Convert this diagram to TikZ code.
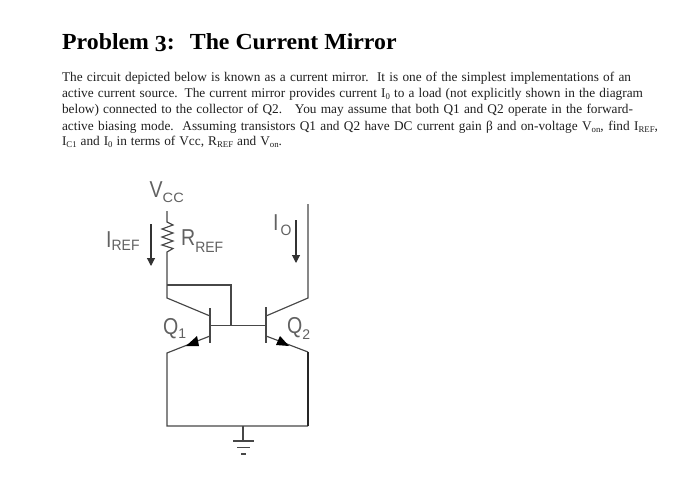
\documentclass[tikz,border=0pt]{standalone}
\usepackage{fontspec}
\setmainfont{Liberation Serif}
\newfontfamily\diagfont{Liberation Sans}
\usetikzlibrary{arrows.meta}
\newcommand{\lowtxt}[1]{\raisebox{-0.25ex}{\fontsize{8.8}{9}\selectfont #1}}
\newcommand{\mainlab}[1]{\scalebox{0.85}[1]{\fontsize{23}{25}\selectfont #1}}
\newcommand{\sublab}[2]{\raisebox{-#1pt}{\scalebox{0.93}[1]{\fontsize{15}{17}\selectfont #2}}}
\tikzset{
  bodyline/.style={anchor=base west,inner sep=0pt,outer sep=0pt,text=black!88,font=\fontsize{13.3}{15}\selectfont},
  title/.style={anchor=base west,inner sep=0pt,text=black,font=\fontsize{23}{26}\selectfont\bfseries},
  wire/.style={draw=black!72,line width=1.15pt,line join=miter},
  thickwire/.style={draw=black!85,line width=1.9pt},
  current/.style={draw=black!80,line width=1.15pt,-{Triangle[length=8pt,width=8pt]}},
  emitter/.style={draw=black!72,line width=1.15pt},
  tip/.style={fill=black,draw=none},
  lab/.style={inner sep=0pt,anchor=base west,text=black!62,font=\diagfont},
}
\begin{document}
\begin{tikzpicture}[x=1pt,y=-1pt]
\useasboundingbox (0,0) rectangle (700,486);
\fill[white] (0,0) rectangle (700,486);
\node[title] (head) at (62,49.5) {\scalebox{1.035}[1]{Problem \raisebox{-0.22ex}{3}:\hspace{0.3em} The Current Mirror}};
\node[bodyline] (l1) at (62,82) {\hbox to 569pt{The circuit depicted below is known as a current mirror.\ \ It is one of the simplest implementations of an}};
\node[bodyline] (l2) at (62,98) {\hbox to 581pt{active current source. The current mirror provides current I\lowtxt{0} to a load (not explicitly shown in the diagram}};
\node[bodyline] (l3) at (62,114) {\hbox to 571pt{below) connected to the collector of Q2.\ \ \ You may assume that both Q1 and Q2 operate in the forward-}};
\node[bodyline] (l4) at (62,130.5) {\hbox to 596pt{active biasing mode.\ \ Assuming transistors Q1 and Q2 have DC current gain β and on-voltage V\lowtxt{on}, find I\lowtxt{REF},}};
\node[bodyline] (l5) at (62,146) {\hbox to 220pt{I\lowtxt{C1} and I\lowtxt{0} in terms of Vcc, R\lowtxt{REF} and V\lowtxt{on}.}};

\coordinate (vcc) at (167,211);
\coordinate (rtop) at (167,222);
\coordinate (rbot) at (167,252);
\coordinate (jn) at (167,285);
\coordinate (c1) at (167,298);
\coordinate (jr) at (231,285);
\coordinate (bq) at (231,325.5);
\coordinate (b1) at (210,325.5);
\coordinate (b2) at (266,325.5);
\coordinate (b1t) at (210,308);
\coordinate (b1b) at (210,343);
\coordinate (b2t) at (266,307);
\coordinate (b2b) at (266,343);
\coordinate (c1i) at (210,316);
\coordinate (e1i) at (210,336);
\coordinate (e1) at (167,353);
\coordinate (c2i) at (266,316);
\coordinate (e2i) at (266,336);
\coordinate (c2) at (308,298);
\coordinate (c2t) at (308,204);
\coordinate (e2) at (308,352);
\coordinate (bl) at (167,426);
\coordinate (br) at (308,426);
\coordinate (gt) at (243,426);
\coordinate (g1) at (243,441);

\draw[wire] (vcc) -- (rtop) -- ++(6,3) -- ++(-11,4) -- ++(11,4) -- ++(-11,4) -- ++(11,4) -- ++(-11,4) -- ++(11,3.5) -- (rbot) -- (jn) -- (c1) -- (c1i);
\draw[wire] (jn) -- (jr) -- (bq);
\draw[wire] (b1t) -- (b1b);
\draw[wire] (b2t) -- (b2b);
\draw[wire] (b1) -- (b2);
\draw[wire] (c2t) -- (c2) -- (c2i);
\draw[emitter] (e1i) -- (e1) -- (bl) -- (br);
\draw[emitter] (e2i) -- (e2);
\draw[thickwire] (e2) -- (br);
\fill[tip] (197,336) -- (199,346) -- (186,346) -- cycle;
\fill[tip] (280,336) -- (289,346) -- (276,345) -- cycle;
\draw[wire] (gt) -- (g1);
\draw[wire] (233,441) -- (254,441);
\draw[wire] (237,447.5) -- (250,447.5);
\draw[wire] (241,454) -- (246,454);
\draw[current] (151,224) -- (151,266);
\draw[current] (296,220) -- (296,263);

\node[lab] (vlab) at (149.5,197) {\mainlab{V}\raisebox{-5pt}{\scalebox{1.08}[1]{\fontsize{13.5}{15}\selectfont CC}}};
\node[lab] (ilab) at (106,247) {\mainlab{I}\sublab{3}{REF}};
\node[lab] (rlab) at (181,245) {\mainlab{R}\sublab{7}{REF}};
\node[lab] (iolab) at (273,230) {\mainlab{I}\hspace{2pt}\sublab{5}{O}};
\node[lab] (q1lab) at (163,334) {\mainlab{Q}\raisebox{-4pt}{\fontsize{14}{15}\selectfont 1}};
\node[lab] (q2lab) at (287,333) {\mainlab{Q}\raisebox{-6pt}{\fontsize{14}{15}\selectfont 2}};
\end{tikzpicture}
\end{document}
